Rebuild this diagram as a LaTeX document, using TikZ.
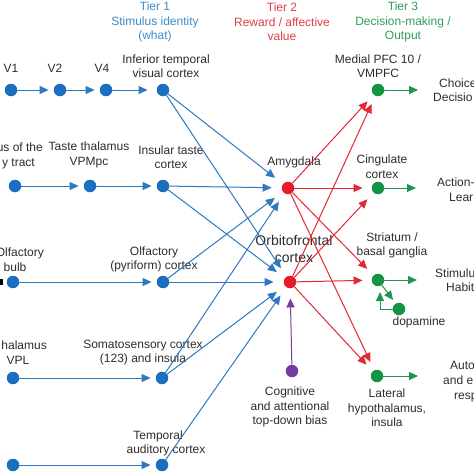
\documentclass[tikz,border=0pt]{standalone}
\usepackage{fontspec}
\setmainfont{Liberation Sans}
\usetikzlibrary{arrows.meta}
\definecolor{nblue}{RGB}{28,110,190}
\definecolor{lblue}{RGB}{48,120,192}
\definecolor{nred}{RGB}{232,28,40}
\definecolor{lred}{RGB}{226,40,52}
\definecolor{ngreen}{RGB}{18,148,68}
\definecolor{lgreen}{RGB}{30,150,80}
\definecolor{npurple}{RGB}{118,58,160}
\definecolor{tone}{RGB}{60,140,200}
\definecolor{ttwo}{RGB}{224,62,72}
\definecolor{tthree}{RGB}{46,160,90}
\definecolor{txt}{RGB}{45,45,45}
\tikzset{
  dot/.style={circle, inner sep=0pt, minimum size=12.5pt},
  bdot/.style={dot, fill=nblue},
  rdot/.style={dot, fill=nred},
  gdot/.style={dot, fill=ngreen},
  pdot/.style={dot, fill=npurple},
  lab/.style={inner sep=0pt, align=center, text=txt},
  frag/.style={inner sep=0pt, text=txt},
  tip/.style={-{Triangle[length=9pt,width=8pt]}},
  barr/.style={draw=lblue, line width=1pt, tip, shorten >=5pt},
  bbarr/.style={draw=lblue, line width=1pt, tip, shorten >=10pt},
  rarr/.style={draw=lred, line width=1pt, tip, shorten >=9pt},
  garr/.style={draw=lgreen, line width=1pt, tip},
  parr/.style={draw=npurple, line width=1pt, tip, shorten >=10pt},
}
\begin{document}
\begin{tikzpicture}[x=1pt,y=-1pt,font=\fontsize{12}{14.5}\selectfont]
\clip (0,0) rectangle (474,474);
\fill[white] (0,0) rectangle (474,474);

% tier headings
\node[lab, text=tone] (t1) at (155,22) {Tier 1\\Stimulus identity\\(what)};
\node[lab, text=ttwo] (t2) at (282,22) {Tier 2\\Reward / affective\\value};
\node[lab, text=tthree] (t3) at (403,22) {Tier 3\\Decision-making /\\Output};

% row 1
\node[bdot] (v1) at (11,90) {};
\node[bdot] (v2) at (60,90) {};
\node[bdot] (v4) at (106,90) {};
\node[bdot] (it) at (163,90) {};
\node[lab] (v1l) at (11,68) {V1};
\node[lab] (v2l) at (55,68) {V2};
\node[lab] (v4l) at (102,68) {V4};
\node[lab] (itl) at (166,66) {Inferior temporal\\visual cortex};

% row 2
\node[bdot] (nts) at (15,186) {};
\node[bdot] (vpm) at (90,186) {};
\node[bdot] (ins) at (163,186) {};
\node[frag, anchor=base east] (ntsa) at (43,151) {us of the};
\node[frag, anchor=base east] (ntsb) at (35,166) {y tract};
\node[lab] (vpml) at (89,155) {Taste thalamus\\VPMpc};
\node[lab] (insl) at (171,157) {Insular taste\\cortex};

% row 3
\node[bdot] (ob) at (13,282) {};
\node[bdot] (pyr) at (163,282) {};
\fill[black] (0,279) rectangle (2.5,284.5);
\node[frag, anchor=base east] (obla) at (44,256) {Olfactory};
\node[frag, anchor=base] (oblb) at (15,271) {bulb};
\node[lab] (pyrl) at (154,259.5) {Olfactory\\(pyriform) cortex};

% row 4
\node[bdot] (vpl) at (13,378) {};
\node[bdot] (som) at (162,378) {};
\node[frag, anchor=base east] (vpla) at (47,349) {halamus};
\node[frag, anchor=base] (vplb) at (18,364) {VPL};
\node[lab] (soml) at (143,352.5) {Somatosensory cortex\\(123) and insula};

% row 5
\node[bdot] (mg) at (13,465) {};
\node[bdot] (aud) at (162,465) {};
\node[frag, anchor=base] (audla) at (158,439) {Temporal};
\node[frag, anchor=base] (audlb) at (166,453) {auditory cortex};

% tier 2
\node[rdot] (amy) at (288,188) {};
\node[rdot] (ofc) at (290,282) {};
\node[lab] (amyl) at (294,162) {Amygdala};
\node[lab, font=\fontsize{14}{17}\selectfont] (ofcl) at (294,248.5) {Orbitofrontal\\cortex};
\node[pdot] (cog) at (292,371) {};
\node[lab] (cogl) at (290,407) {Cognitive\\and attentional\\top-down bias};

% tier 3
\node[gdot] (mpfc) at (378,90) {};
\node[gdot] (cing) at (378,188) {};
\node[gdot] (str) at (378,280) {};
\node[gdot] (dop) at (399,309) {};
\node[gdot] (lh) at (377,376) {};
\node[lab] (mpfcl) at (378,66) {Medial PFC 10 /\\VMPFC};
\node[lab] (cingl) at (382,166.5) {Cingulate\\cortex};
\node[lab] (strl) at (392,245.5) {Striatum /\\basal ganglia};
\node[lab] (dopl) at (419,322) {dopamine};
\node[lab] (lhl) at (387,408) {Lateral\\hypothalamus,\\insula};

% outputs (cut by the edge)
\node[frag, anchor=base west] (o1a) at (439,87) {Choice};
\node[frag, anchor=base west] (o1b) at (433,101) {Decisio};
\node[frag, anchor=base west] (o2a) at (437,186) {Action-};
\node[frag, anchor=base west] (o2b) at (449,201) {Lear};
\node[frag, anchor=base west] (o3a) at (435,277) {Stimulu};
\node[frag, anchor=base west] (o3b) at (446,291) {Habit};
\node[frag, anchor=base west] (o4a) at (450,369) {Auto};
\node[frag, anchor=base west] (o4b) at (443,384) {and e};
\node[frag, anchor=base west] (o4c) at (454,399) {resp};

% free arrow ends
\coordinate (e1) at (418,90);
\coordinate (e2) at (416,188);
\coordinate (e3) at (417,280);
\coordinate (e4) at (418,376);
\coordinate (stip) at (393,300);
\coordinate (dtip) at (380,292);

% row arrows
\draw[barr] (v1) -- (v2);
\draw[barr] (v2) -- (v4);
\draw[barr, shorten >=9pt] (v4) -- (it);
\draw[barr] (nts) -- (vpm);
\draw[barr] (vpm) -- (ins);
\draw[barr] (ob) -- (pyr);
\draw[barr] (vpl) -- (som);
\draw[barr] (mg) -- (aud);

% tier 1 -> tier 2
\draw[bbarr] (it) -- (amy);
\draw[bbarr] (it) -- (ofc);
\draw[bbarr] (ins) -- (amy);
\draw[bbarr] (ins) -- (ofc);
\draw[bbarr] (pyr) -- (amy);
\draw[bbarr] (pyr) -- (ofc);
\draw[bbarr] (som) -- (amy);
\draw[bbarr] (som) -- (ofc);
\draw[bbarr] (aud) -- (ofc);
\draw[parr] (cog) -- (ofc);

% tier 2 -> tier 3
\draw[rarr] (amy) -- (mpfc);
\draw[rarr] (amy) -- (cing);
\draw[rarr] (amy) -- (str);
\draw[rarr] (amy) -- (lh);
\draw[rarr] (ofc) -- (mpfc);
\draw[rarr] (ofc) -- (cing);
\draw[rarr] (ofc) -- (str);
\draw[rarr] (ofc) -- (lh);

% tier 3 outputs
\draw[garr] (mpfc) -- (e1);
\draw[garr] (cing) -- (e2);
\draw[garr] (str) -- (e3);
\draw[garr] (lh) -- (e4);
\draw[garr] (str) -- (stip);
\draw[garr] (dop.west) -| (dtip);
\end{tikzpicture}
\end{document}
